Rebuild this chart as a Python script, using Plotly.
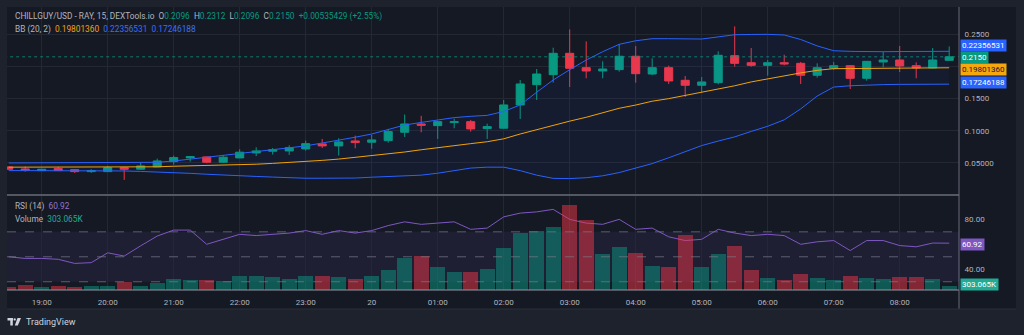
import plotly.graph_objects as go

# ---------------- data ----------------
idx = list(range(58))  # 15-minute candles, 18:30 -> 08:45

opens = [0.0438, 0.0407, 0.0381, 0.0412, 0.0396, 0.0365, 0.0365, 0.0427, 0.0402, 0.0438,
         0.0521, 0.0578, 0.0594, 0.0511, 0.0578, 0.0656, 0.0682, 0.0687, 0.0718, 0.0796,
         0.0765, 0.0842, 0.0822, 0.0847, 0.0977, 0.1106, 0.1080, 0.1127, 0.1142, 0.1034,
         0.1040, 0.1402, 0.1717, 0.1873, 0.2205, 0.1981, 0.1930, 0.1951, 0.2159, 0.1883,
         0.1981, 0.1785, 0.1708, 0.1749, 0.2168, 0.2059, 0.2018, 0.2059, 0.2049, 0.1863,
         0.1972, 0.2013, 0.1816, 0.2070, 0.2101, 0.2013, 0.1977, 0.2096]
highs = [0.0445, 0.0443, 0.0410, 0.0438, 0.0400, 0.0402, 0.0454, 0.0432, 0.0505, 0.0567,
         0.0614, 0.0609, 0.0600, 0.0619, 0.0713, 0.0743, 0.0733, 0.0775, 0.0847, 0.0873,
         0.0884, 0.0925, 0.0935, 0.1029, 0.1253, 0.1233, 0.1150, 0.1189, 0.1168, 0.1110,
         0.1479, 0.1790, 0.1961, 0.2292, 0.2576, 0.2390, 0.2080, 0.2349, 0.2318, 0.2127,
         0.2013, 0.1852, 0.1837, 0.2236, 0.2623, 0.2287, 0.2100, 0.2183, 0.2070, 0.2049,
         0.2070, 0.2020, 0.2085, 0.2228, 0.2318, 0.2065, 0.2287, 0.2312]
lows = [0.0398, 0.0365, 0.0376, 0.0378, 0.0345, 0.0345, 0.0360, 0.0236, 0.0398, 0.0435,
        0.0474, 0.0521, 0.0495, 0.0505, 0.0575, 0.0607, 0.0630, 0.0625, 0.0692, 0.0733,
        0.0615, 0.0727, 0.0720, 0.0816, 0.0904, 0.0977, 0.0873, 0.1039, 0.0987, 0.0873,
        0.1035, 0.1184, 0.1479, 0.1749, 0.1681, 0.1816, 0.1816, 0.1920, 0.1749, 0.1868,
        0.1728, 0.1526, 0.1600, 0.1723, 0.1997, 0.1997, 0.1857, 0.2018, 0.1728, 0.1826,
        0.1945, 0.1650, 0.1780, 0.1987, 0.1914, 0.1816, 0.1966, 0.2096]
closes = [0.0402, 0.0392, 0.0402, 0.0381, 0.0365, 0.0381, 0.0427, 0.0402, 0.0454, 0.0531,
          0.0583, 0.0598, 0.0511, 0.0589, 0.0667, 0.0687, 0.0707, 0.0738, 0.0800, 0.0765,
          0.0827, 0.0816, 0.0858, 0.0987, 0.1106, 0.1086, 0.1142, 0.1142, 0.1029, 0.1065,
          0.1402, 0.1728, 0.1883, 0.2205, 0.1972, 0.1930, 0.1961, 0.2159, 0.1888, 0.1981,
          0.1775, 0.1708, 0.1759, 0.2174, 0.2049, 0.2018, 0.2059, 0.2039, 0.1863, 0.1981,
          0.2013, 0.1816, 0.2080, 0.2101, 0.2008, 0.1977, 0.2101, 0.2150]

bb_basis = [0.0434, 0.0434, 0.0434, 0.0434, 0.0434, 0.0433, 0.0433, 0.0434, 0.0436, 0.0440,
            0.0449, 0.0455, 0.0460, 0.0464, 0.0468, 0.0480, 0.0493, 0.0505, 0.0521, 0.0540,
            0.0560, 0.0585, 0.0612, 0.0635, 0.0670, 0.0705, 0.0740, 0.0770, 0.0800, 0.0830,
            0.0875, 0.0950, 0.1020, 0.1080, 0.1150, 0.1210, 0.1280, 0.1350, 0.1400, 0.1460,
            0.1500, 0.1550, 0.1590, 0.1650, 0.1700, 0.1760, 0.1810, 0.1860, 0.1900, 0.1940,
            0.1966, 0.1968, 0.1970, 0.1972, 0.1974, 0.1976, 0.1978, 0.1980]
bb_upper = [0.0500, 0.0500, 0.0500, 0.0500, 0.0500, 0.0500, 0.0500, 0.0500, 0.0502, 0.0510,
            0.0530, 0.0560, 0.0590, 0.0620, 0.0640, 0.0670, 0.0700, 0.0730, 0.0765, 0.0810,
            0.0850, 0.0900, 0.0950, 0.1020, 0.1090, 0.1130, 0.1169, 0.1205, 0.1225, 0.1240,
            0.1300, 0.1402, 0.1600, 0.1790, 0.1950, 0.2100, 0.2230, 0.2345, 0.2400, 0.2432,
            0.2432, 0.2430, 0.2427, 0.2460, 0.2494, 0.2498, 0.2500, 0.2490, 0.2420, 0.2320,
            0.2245, 0.2235, 0.2230, 0.2230, 0.2232, 0.2236, 0.2240, 0.2236]
bb_lower = [0.0381, 0.0381, 0.0381, 0.0381, 0.0381, 0.0380, 0.0378, 0.0375, 0.0368, 0.0360,
            0.0350, 0.0338, 0.0324, 0.0310, 0.0298, 0.0290, 0.0280, 0.0270, 0.0262, 0.0262,
            0.0262, 0.0265, 0.0278, 0.0285, 0.0293, 0.0310, 0.0340, 0.0380, 0.0420, 0.0434,
            0.0434, 0.0380, 0.0310, 0.0260, 0.0257, 0.0270, 0.0300, 0.0350, 0.0420, 0.0490,
            0.0580, 0.0670, 0.0770, 0.0840, 0.0905, 0.0990, 0.1070, 0.1170, 0.1340, 0.1540,
            0.1680, 0.1700, 0.1712, 0.1718, 0.1722, 0.1725, 0.1727, 0.1725]

rsi = [50.0, 48.7, 48.7, 48.0, 44.7, 45.3, 53.2, 50.6, 58.8, 66.6,
       71.4, 71.4, 60.0, 64.0, 68.0, 67.0, 68.0, 69.0, 71.0, 68.0,
       71.0, 69.0, 71.0, 75.0, 78.0, 76.0, 77.0, 78.0, 72.0, 73.0,
       82.0, 85.0, 86.0, 88.0, 80.0, 77.0, 76.0, 80.0, 72.0, 73.0,
       66.0, 63.0, 64.0, 72.0, 69.0, 67.0, 68.0, 67.0, 60.0, 62.0,
       63.0, 55.0, 63.0, 63.0, 59.0, 58.0, 61.0, 60.92]

volume_k = [228, 403, 228, 281, 228, 281, 281, 585, 327, 509,
            813, 760, 760, 684, 1064, 1064, 988, 836, 1064, 1064,
            988, 836, 1064, 1520, 2432, 2584, 1748, 1368, 1368, 1596,
            3192, 4332, 4484, 4788, 6460, 5320, 2736, 3268, 2812, 1824,
            1748, 4180, 1748, 2736, 3344, 1520, 912, 760, 1216, 912,
            760, 1064, 912, 836, 988, 988, 836, 303.065]

hour_ticks = [2, 6, 10, 14, 18, 22, 26, 30, 34, 38, 42, 46, 50, 54]
hour_labels = ["19:00", "20:00", "21:00", "22:00", "23:00", "20", "01:00", "02:00",
               "03:00", "04:00", "05:00", "06:00", "07:00", "08:00"]
price_ticks = [0.05, 0.10, 0.15, 0.20, 0.25]
price_tick_labels = ["0.05000", "0.1000", "0.1500", "", "0.2500"]
rsi_ticks = [40, 80]
rsi_tick_labels = ["40.00", "80.00"]

# ---------------- geometry helpers ----------------
WIDTH, HEIGHT = 1024, 335
ML, MR, MT, MB = 7, 65, 7, 45
PW = WIDTH - ML - MR
PH = HEIGHT - MT - MB


def px(x):
    return (x - ML) / PW


def py(y):
    return (HEIGHT - MB - y) / PH


UP = "#089981"
DOWN = "#f23645"
BLUE = "#2962ff"
GOLD = "#f0a30a"
PURPLE = "#7e57c2"
GRID = "#242832"
TXT = "#b2b5be"
FONT = "Roboto, Open Sans, sans-serif"

fig = go.Figure()

# Bollinger bands
fig.add_trace(go.Scatter(x=idx, y=bb_upper, mode="lines", line=dict(color=BLUE, width=1),
                         xaxis="x", yaxis="y", showlegend=False, hoverinfo="skip"))
fig.add_trace(go.Scatter(x=idx, y=bb_lower, mode="lines", line=dict(color=BLUE, width=1),
                         fill="tonexty", fillcolor="rgba(41,98,255,0.05)",
                         xaxis="x", yaxis="y", showlegend=False, hoverinfo="skip"))
fig.add_trace(go.Scatter(x=idx, y=bb_basis, mode="lines", line=dict(color=GOLD, width=1),
                         xaxis="x", yaxis="y", showlegend=False, hoverinfo="skip"))

# Candles
fig.add_trace(go.Candlestick(
    x=idx, open=opens, high=highs, low=lows, close=closes,
    increasing=dict(line=dict(color=UP, width=1), fillcolor=UP),
    decreasing=dict(line=dict(color=DOWN, width=1), fillcolor=DOWN),
    whiskerwidth=0, xaxis="x", yaxis="y", showlegend=False))

# current price dotted line
fig.add_trace(go.Scatter(x=[-1, 60], y=[closes[-1], closes[-1]], mode="lines",
                         line=dict(color="rgba(8,153,129,0.8)", width=1, dash="dot"),
                         xaxis="x", yaxis="y", showlegend=False, hoverinfo="skip"))

# Volume (overlay in RSI pane)
vcolors = ["rgba(8,153,129,0.5)" if c >= o else "rgba(242,54,69,0.5)" for o, c in zip(opens, closes)]
fig.add_trace(go.Bar(x=idx, y=volume_k, marker=dict(color=vcolors, line=dict(width=0)),
                     width=0.9, xaxis="x", yaxis="y3", showlegend=False, hoverinfo="skip"))

# RSI
fig.add_trace(go.Scatter(x=idx, y=rsi, mode="lines", line=dict(color=PURPLE, width=1),
                         xaxis="x", yaxis="y2", showlegend=False, hoverinfo="skip"))

shapes = []
# chart frame background
shapes.append(dict(type="rect", xref="paper", yref="paper", x0=px(7), x1=px(1016), y0=py(309), y1=py(7),
                   fillcolor="#151924", line=dict(width=0), layer="below"))
# RSI band
shapes.append(dict(type="rect", xref="paper", yref="y2", x0=0, x1=1, y0=30, y1=70,
                   fillcolor="rgba(126,87,194,0.10)", line=dict(width=0), layer="below"))
for lv in (70, 50, 30):
    shapes.append(dict(type="line", xref="paper", yref="y2", x0=0, x1=1, y0=lv, y1=lv,
                       line=dict(color="rgba(120,123,134,0.7)", width=1, dash="dash")))
# separators / axis lines
shapes.append(dict(type="line", xref="paper", yref="paper", x0=0, x1=1, y0=py(195), y1=py(195),
                   line=dict(color="#9598a1", width=1)))
shapes.append(dict(type="line", xref="paper", yref="paper", x0=0, x1=1, y0=py(290), y1=py(290),
                   line=dict(color="#9598a1", width=1)))
shapes.append(dict(type="line", xref="paper", yref="paper", x0=px(959), x1=px(959), y0=py(309), y1=py(7),
                   line=dict(color="#6a6d78", width=1)))
shapes.append(dict(type="line", xref="paper", yref="paper", x0=px(7), x1=px(1016), y0=py(309), y1=py(309),
                   line=dict(color="#2a2e39", width=1)))

# TradingView logo (simple glyph)
shapes.append(dict(type="rect", xref="paper", yref="paper", x0=px(7.5), x1=px(13), y0=py(320.5), y1=py(318),
                   fillcolor="#d1d4dc", line=dict(width=0)))
shapes.append(dict(type="rect", xref="paper", yref="paper", x0=px(10.3), x1=px(12.8), y0=py(325.5), y1=py(318),
                   fillcolor="#d1d4dc", line=dict(width=0)))
shapes.append(dict(type="circle", xref="paper", yref="paper", x0=px(13.6), x1=px(15.8), y0=py(320.6), y1=py(318.2),
                   fillcolor="#d1d4dc", line=dict(width=0)))
shapes.append(dict(type="path", xref="paper", yref="paper",
                   path=f"M {px(17.5)} {py(318)} L {px(21)} {py(318)} L {px(17.8)} {py(325.5)} L {px(14.8)} {py(325.5)} Z",
                   fillcolor="#d1d4dc", line=dict(width=0)))

annotations = []


def txt(x, y, text, size=8.3, color=TXT, bg=None, anchor="left"):
    d = dict(xref="paper", yref="paper", x=px(x), y=py(y), text=text, showarrow=False,
             xanchor=anchor, yanchor="middle", font=dict(family=FONT, size=size, color=color))
    if bg:
        d.update(bgcolor=bg, borderpad=1)
    annotations.append(d)


def c(t, col):
    return f'<span style="color:{col}">{t}</span>'


txt(12.5, 16.5, "CHILLGUY/USD - RAY, 15, DEXTools.io  " +
    "O" + c(f"{opens[-1]:.4f}", UP) + "  H" + c(f"{highs[-1]:.4f}", UP) +
    "  L" + c(f"{lows[-1]:.4f}", UP) + "  C" + c(f"{closes[-1]:.4f}", UP) +
    "  " + c("+0.00535429 (+2.55%)", UP))
txt(12.5, 29.5, "BB (20, 2)  " + c("0.19801360", GOLD) + "  " + c("0.22356531", "#3d6ff5") +
    "  " + c("0.17246188", "#3d6ff5"))
txt(12.5, 206.5, "RSI (14)  " + c(f"{rsi[-1]:.2f}", "#9575cd"))
txt(12.5, 219, "Volume  " + c("303.065K", "#22ab94"))

# price-scale labels
txt(960, 45.7, "0.22356531", size=8, color="#ffffff", bg=BLUE)
txt(960, 57.3, "0.2150", size=8, color="#ffffff", bg=UP)
txt(960, 69.7, "0.19801360", size=8, color="#131722", bg="#f5a70d")
txt(960, 82.3, "0.17246188", size=8, color="#ffffff", bg=BLUE)
txt(960, 244.3, "60.92", size=8, color="#ffffff", bg=PURPLE)
txt(960, 284.3, "303.065K", size=8, color="#ffffff", bg="#22ab94")

txt(24, 322, "TradingView", size=9, color="#d1d4dc")

fig.update_layout(
    width=WIDTH, height=HEIGHT,
    margin=dict(l=ML, r=MR, t=MT, b=MB, pad=0),
    paper_bgcolor="#1e222d", plot_bgcolor="rgba(0,0,0,0)",
    font=dict(family=FONT, size=8, color=TXT),
    showlegend=False, bargap=0,
    xaxis=dict(range=[-0.103, 57.594], anchor="y2", tickvals=hour_ticks, ticktext=hour_labels,
               showgrid=True, gridcolor=GRID, gridwidth=1, zeroline=False, showline=False,
               ticks="outside", ticklen=4, tickcolor="rgba(0,0,0,0)",
               tickfont=dict(family=FONT, size=8, color=TXT),
               rangeslider=dict(visible=False), fixedrange=True),
    yaxis=dict(domain=[py(195) + 0.004, 1], range=[0.0019, 0.2925], side="right", anchor="x",
               tickvals=price_ticks, ticktext=price_tick_labels, showgrid=True, gridcolor=GRID,
               zeroline=False, showline=False, ticks="outside", ticklen=3, tickcolor="rgba(0,0,0,0)",
               tickfont=dict(family=FONT, size=8, color=TXT)),
    yaxis2=dict(domain=[0, py(195) - 0.004], range=[23.4, 98.6], side="right", anchor="x",
                tickvals=rsi_ticks, ticktext=rsi_tick_labels, showgrid=False, zeroline=False,
                showline=False, ticks="outside", ticklen=3, tickcolor="rgba(0,0,0,0)",
                tickfont=dict(family=FONT, size=8, color=TXT)),
    yaxis3=dict(overlaying="y2", range=[0, 7144], visible=False, side="right"),
    shapes=shapes, annotations=annotations,
)

fig.write_html("out.html")
